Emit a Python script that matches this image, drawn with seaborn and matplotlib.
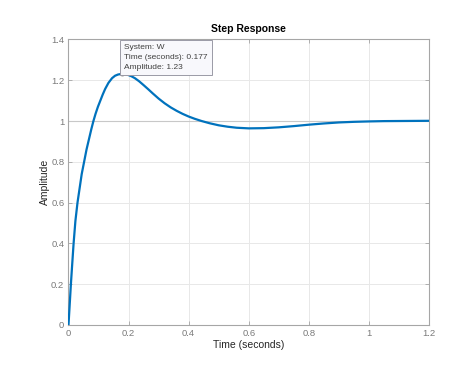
import numpy as np
import pandas as pd
import seaborn as sns
import matplotlib.pyplot as plt

# Step response samples
time_s = [0.0, 0.004, 0.008, 0.012, 0.017, 0.023, 0.03, 0.037, 0.044, 0.052,
          0.06, 0.068, 0.076, 0.083, 0.09, 0.098, 0.106, 0.114, 0.122, 0.133,
          0.145, 0.155, 0.165, 0.177, 0.19, 0.20, 0.21, 0.221, 0.235, 0.25,
          0.266, 0.28, 0.30, 0.32, 0.34, 0.36, 0.38, 0.40, 0.42, 0.443,
          0.47, 0.50, 0.53, 0.56, 0.60, 0.65, 0.70, 0.75, 0.80, 0.85,
          0.90, 0.95, 1.00, 1.05, 1.10, 1.15, 1.20]
amplitude = [0.0, 0.10, 0.20, 0.29, 0.40, 0.51, 0.60, 0.67, 0.74, 0.80,
             0.86, 0.91, 0.96, 1.0, 1.035, 1.07, 1.10, 1.13, 1.157, 1.187,
             1.21, 1.222, 1.228, 1.231, 1.229, 1.225, 1.219, 1.21, 1.195, 1.176,
             1.155, 1.136, 1.11, 1.087, 1.067, 1.05, 1.035, 1.022, 1.011, 1.0,
             0.989, 0.979, 0.972, 0.967, 0.964, 0.965, 0.969, 0.975, 0.982, 0.988,
             0.993, 0.996, 0.998, 0.9995, 1.0, 1.0005, 1.001]

peak_t = 0.177
peak_amp = 1.23

x_ticks = [0, 0.2, 0.4, 0.6, 0.8, 1, 1.2]
y_ticks = [0, 0.2, 0.4, 0.6, 0.8, 1, 1.2, 1.4]
x_labels = ["0", "0.2", "0.4", "0.6", "0.8", "1", "1.2"]
y_labels = ["0", "0.2", "0.4", "0.6", "0.8", "1", "1.2", "1.4"]

df = pd.DataFrame({"t": time_s, "amp": amplitude})

sns.set_style("white")
plt.rcParams['font.family'] = ['Liberation Sans', 'DejaVu Sans']

fig = plt.figure(figsize=(4.74, 3.65), dpi=100)
ax = fig.add_axes([0.1445, 0.1096, 0.7605, 0.7824])

sns.lineplot(data=df, x="t", y="amp", ax=ax, color="#0072BD", linewidth=1.6, zorder=3)

ax.set_xlim(0, 1.2)
ax.set_ylim(0, 1.4)
ax.set_xticks(x_ticks)
ax.set_xticklabels(x_labels)
ax.set_yticks(y_ticks)
ax.set_yticklabels(y_labels)
ax.grid(True, color="#e8e8e8", linewidth=0.7)
ax.axhline(1.0, color="#c8c8c8", linewidth=0.8, zorder=2)

for s in ax.spines.values():
    s.set_color("#a6a6a6")
    s.set_linewidth(0.8)
ax.tick_params(direction="in", length=3, width=0.6, colors="#a6a6a6",
               labelcolor="#7a7a7a", labelsize=6.8, top=True, right=True,
               bottom=True, left=True, pad=3)

ax.set_xlabel("Time (seconds)", fontsize=7.5, color="#262626", labelpad=1)
ax.set_ylabel("Amplitude", fontsize=7.5, color="#262626", labelpad=1)
ax.set_title("Step Response", fontsize=7.5, fontweight="bold", color="#000000", pad=5)

# datatip
ax.plot([peak_t], [peak_amp], marker="s", markersize=2, color="black", zorder=5)
ax.annotate(f"System: W\nTime (seconds): {peak_t}\nAmplitude: {peak_amp}",
            xy=(peak_t, peak_amp), xytext=(2, 2), textcoords="offset points",
            ha="left", va="bottom", fontsize=6.0, color="#404040", linespacing=1.6,
            bbox=dict(boxstyle="square,pad=0.5", fc="#f8f8fc", ec="#9a9aa6", lw=0.7),
            zorder=6)

fig.savefig("out.png", dpi=100)
